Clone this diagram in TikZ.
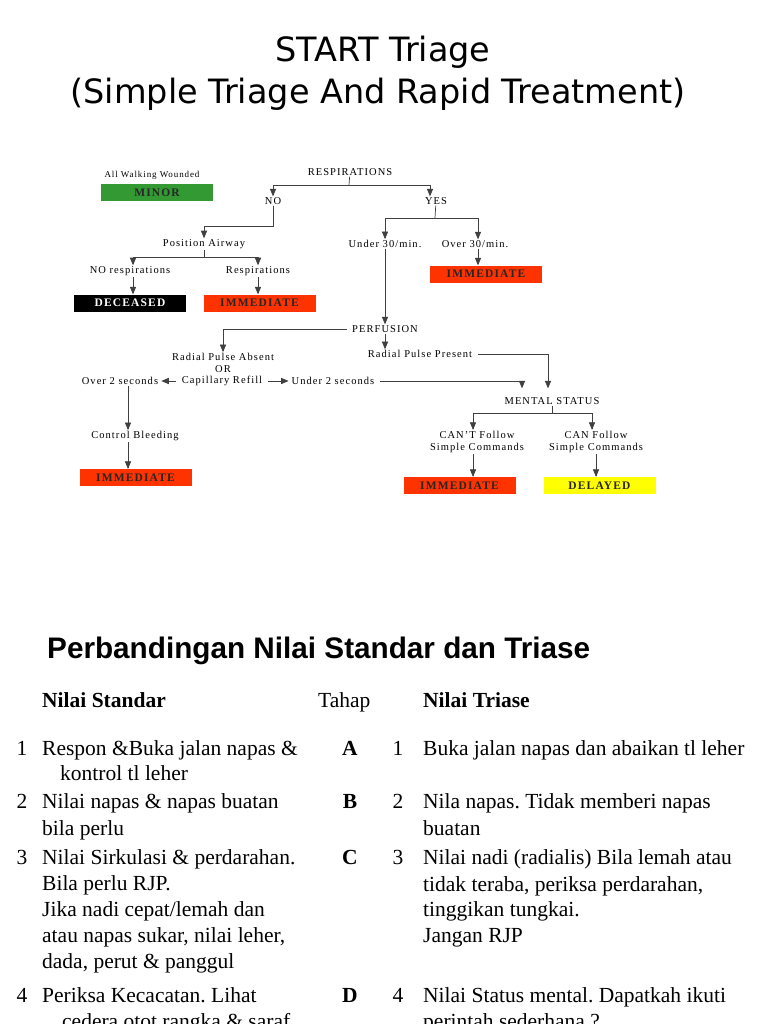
\documentclass[tikz,border=0pt]{standalone}
\usepackage{fontspec}
\setmainfont{Liberation Serif}
\newfontfamily\titlefont{DejaVu Sans}
\newfontfamily\headfont{Liberation Sans}
\newfontfamily\flowfont[LetterSpace=10]{Liberation Serif}
\usetikzlibrary{arrows}
\definecolor{minorgreen}{RGB}{51,153,51}
\definecolor{immred}{RGB}{255,51,0}
\definecolor{delyellow}{RGB}{255,255,0}
\frenchspacing
\begin{document}
\begin{tikzpicture}[x=1pt,y=-1pt,>=triangle 45,
  lbl/.style={font=\flowfont\fontsize{10.5}{12.5}\selectfont,inner sep=1pt,align=center},
  triagebox/.style={minimum width=112pt,minimum height=17pt,inner sep=0pt,text=black!85,font=\flowfont\fontsize{11.5}{12}\selectfont\bfseries},
  flowline/.style={line width=0.7pt,black!75},
  tab/.style={font=\fontsize{21.5}{26}\selectfont,inner sep=0pt,anchor=base west},
  tabbold/.style={font=\fontsize{21.5}{26}\selectfont\bfseries,inner sep=0pt,anchor=base west}]
\useasboundingbox[fill=white] (0,0) rectangle (768,1024);
\node[font=\titlefont\fontsize{33.5}{38}\selectfont,anchor=base,inner sep=0pt] (title) at (383,62) {START Triage};
\node[font=\titlefont\fontsize{33.5}{38}\selectfont,anchor=base,inner sep=0pt] (subtitle) at (378,104) {(Simple Triage And Rapid Treatment)};
\node[lbl,font=\flowfont\fontsize{9}{11}\selectfont] (walk) at (152,175) {All Walking Wounded};
\node[triagebox,fill=minorgreen] (minor) at (157,192.5) {MINOR};
\node[lbl] (resp) at (350,172) {RESPIRATIONS};
\node[lbl] (no) at (273,201) {NO};
\node[lbl] (yes) at (436,201) {YES};
\node[lbl] (airway) at (204,244) {Position Airway};
\node[lbl] (norsp) at (130,271) {NO respirations};
\node[lbl] (rsp) at (258,271) {Respirations};
\node[triagebox,fill=black,text=white] (dead) at (130,303) {DECEASED};
\node[triagebox,fill=immred] (imm1) at (259.5,303) {IMMEDIATE};
\node[lbl] (under30) at (385,244) {Under 30/min.};
\node[lbl] (over30) at (475,244) {Over 30/min.};
\node[triagebox,fill=immred] (imm2) at (486,274) {IMMEDIATE};
\node[lbl] (perf) at (385,329) {PERFUSION};
\node[lbl] (absent) at (223,357) {Radial Pulse Absent};
\node[lbl] (ornode) at (223,369) {OR};
\node[lbl] (cap) at (222,381) {Capillary Refill};
\node[lbl] (present) at (420,354) {Radial Pulse Present};
\node[lbl] (over2) at (120,381) {Over 2 seconds};
\node[lbl] (under2) at (333,381) {Under 2 seconds};
\node[lbl] (bleed) at (135,436) {Control Bleeding};
\node[triagebox,fill=immred] (imm3) at (135.5,477.5) {IMMEDIATE};
\node[lbl] (mental) at (552,401) {MENTAL STATUS};
\node[lbl] (cant) at (477,442) {CAN’T Follow\\Simple Commands};
\node[lbl] (can) at (596,442) {CAN Follow\\Simple Commands};
\node[triagebox,fill=immred] (imm4) at (459.5,485.5) {IMMEDIATE};
\node[triagebox,fill=delyellow] (delay) at (599.5,485.5) {DELAYED};
\coordinate (j1) at (349,185);
\coordinate (j2) at (273,226);
\coordinate (j3) at (204,257);
\coordinate (j4) at (435,218);
\coordinate (j5) at (552,413);
\draw[flowline] (resp) -- (j1);
\draw[flowline,->] (j1) -| (no);
\draw[flowline,->] (j1) -| ([xshift=-6pt]yes.north);
\draw[flowline,->] (no) -- (j2) -| (airway);
\draw[flowline] (airway) -- (j3);
\draw[flowline,->] (j3) -| ([xshift=3pt]norsp.north);
\draw[flowline,->] (j3) -| (rsp);
\draw[flowline,->] ([xshift=3pt]norsp.south) -- ([xshift=3pt]norsp.south |- dead.north);
\draw[flowline,->] (rsp) -- (rsp |- imm1.north);
\draw[flowline] (yes) -- (j4);
\draw[flowline,->] (j4) -| (under30);
\draw[flowline,->] (j4) -| ([xshift=3pt]over30.north);
\draw[flowline,->] ([xshift=3pt]over30.south) -- ([xshift=3pt]over30.south |- imm2.north);
\draw[flowline,->] (under30) -- (perf);
\draw[flowline,->,shorten <=4pt] (perf) -| (absent);
\draw[flowline,->] (perf) -- (perf |- present.north);
\draw[flowline,->,shorten <=5pt,shorten >=2pt] (cap) -- (over2);
\draw[flowline,->,shorten <=5pt,shorten >=2pt] (cap) -- (under2);
\draw[flowline,->,shorten <=5pt,shorten >=8pt] (present) -| ([xshift=-4pt]mental.north);
\draw[flowline,->,shorten <=5pt,shorten >=8pt] (under2) -| ([xshift=-30pt]mental.north);
\draw[flowline,->] ([xshift=8pt]over2.south) -- ([xshift=8pt]over2.south |- bleed.north);
\draw[flowline,->] ([xshift=-7pt]bleed.south) -- ([xshift=-7pt]bleed.south |- imm3.north);
\draw[flowline] (mental) -- (j5);
\draw[flowline,->] (j5) -| ([xshift=-4pt]cant.north);
\draw[flowline,->] (j5) -| ([xshift=-4pt]can.north);
\draw[flowline,->] ([xshift=-4pt]cant.south) -- ([xshift=-4pt]cant.south |- imm4.north);
\draw[flowline,->] (can) -- (can |- delay.north);
\node[font=\headfont\bfseries\fontsize{29.7}{34}\selectfont,anchor=base west,inner sep=0pt] (heading) at (47,658) {Perbandingan Nilai Standar dan Triase};
\node[tabbold] (hstd) at (42,707) {Nilai Standar};
\node[tab] (htahap) at (318,707) {Tahap};
\node[tabbold] (htri) at (423,707) {Nilai Triase};
\node[tab,anchor=base] (sn1) at (22,755) {1};
\node[tab,anchor=base] (sn2) at (22,808) {2};
\node[tab,anchor=base] (sn3) at (22,864) {3};
\node[tab,anchor=base] (sn4) at (22,1002) {4};
\node[tab] (std1a) at (42,755) {Respon \&Buka jalan napas \&};
\node[tab] (std1b) at (60,780) {kontrol tl leher};
\node[tab] (std2a) at (42,808) {Nilai napas \& napas buatan};
\node[tab] (std2b) at (42,835) {bila perlu};
\node[tab] (std3a) at (42,864) {Nilai Sirkulasi \& perdarahan.};
\node[tab] (std3b) at (42,890) {Bila perlu RJP.};
\node[tab] (std3c) at (42,916) {Jika nadi cepat/lemah dan};
\node[tab] (std3d) at (42,942) {atau napas sukar, nilai leher,};
\node[tab] (std3e) at (42,968) {dada, perut \& panggul};
\node[tab] (std4a) at (42,1002) {Periksa Kecacatan. Lihat};
\node[tab] (std4b) at (62,1028) {cedera otot rangka \& saraf};
\node[tabbold,anchor=base] (stA) at (350,755) {A};
\node[tabbold,anchor=base] (stB) at (350,808) {B};
\node[tabbold,anchor=base] (stC) at (350,864) {C};
\node[tabbold,anchor=base] (stD) at (350,1002) {D};
\node[tab,anchor=base] (tn1) at (398,755) {1};
\node[tab,anchor=base] (tn2) at (398,808) {2};
\node[tab,anchor=base] (tn3) at (398,864) {3};
\node[tab,anchor=base] (tn4) at (398,1002) {4};
\node[tab] (tri1a) at (423,755) {Buka jalan napas dan abaikan tl leher};
\node[tab] (tri2a) at (423,808) {Nila napas. Tidak memberi napas};
\node[tab] (tri2b) at (423,835) {buatan};
\node[tab] (tri3a) at (423,864) {Nilai nadi (radialis) Bila lemah atau};
\node[tab] (tri3b) at (423,891) {tidak teraba, periksa perdarahan,};
\node[tab] (tri3c) at (423,916) {tinggikan tungkai.};
\node[tab] (tri3d) at (423,942) {Jangan RJP};
\node[tab] (tri4a) at (423,1002) {Nilai Status mental. Dapatkah ikuti};
\node[tab] (tri4b) at (423,1028) {perintah sederhana ?};
\end{tikzpicture}
\end{document}
